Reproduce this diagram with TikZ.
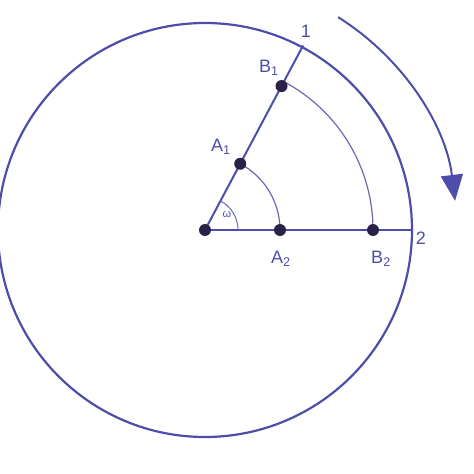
\documentclass[tikz,border=0pt]{standalone}
\usepackage{fontspec}
\setmainfont{Liberation Sans}
\usetikzlibrary{arrows.meta}
\definecolor{ink}{RGB}{78,78,170}
\definecolor{dotink}{RGB}{42,32,72}
\begin{document}
\begin{tikzpicture}[x=1pt,y=1pt,
  mainline/.style={draw=ink, line width=2pt},
  thinarc/.style={draw=ink!85, line width=1.2pt},
  dotnode/.style={circle, fill=dotink, inner sep=0pt, minimum size=12pt},
  lbl/.style={text=ink, font=\fontsize{18}{18}\selectfont, inner sep=0pt}]
\useasboundingbox (-205,-244) rectangle (269,230);
\coordinate (O) at (0,0);
\coordinate (P1) at (62:209);
\coordinate (P2) at (207,0);
% circle
\draw[mainline, line width=2.2pt] (O) circle (207);
% radii
\draw[mainline] (O) -- (P1);
\draw[mainline] (O) -- (P2);
% arcs
\draw[thinarc] (75,0) arc (0:62:75);
\draw[thinarc] (168,0) arc (0:62:168);
\draw[thinarc, line width=1pt] (33,0) arc (0:62:33);
% dots
\node[dotnode] (Od) at (O) {};
\node[dotnode] (A1) at (62:75) {};
\node[dotnode] (B1) at (62:163) {};
\node[dotnode] (A2) at (75,0) {};
\node[dotnode] (B2) at (168,0) {};
% labels
\node[lbl] (lA1) at (16,83) {A\textsubscript{1}};
\node[lbl] (lB1) at (64,162) {B\textsubscript{1}};
\node[lbl] (lA2) at (76,-29) {A\textsubscript{2}};
\node[lbl] (lB2) at (176,-29) {B\textsubscript{2}};
\node[lbl] (l1) at (101,199) {1};
\node[lbl] (l2) at (216,-8) {2};
\node[lbl, font=\fontsize{11}{11}\selectfont] (lw) at (22,15) {ω};
% rotation arrow
\coordinate (Rs) at (58:251);
\draw[mainline, -{Triangle[length=26pt,width=22pt]}] (Rs) arc (58:7:253);
\end{tikzpicture}
\end{document}
